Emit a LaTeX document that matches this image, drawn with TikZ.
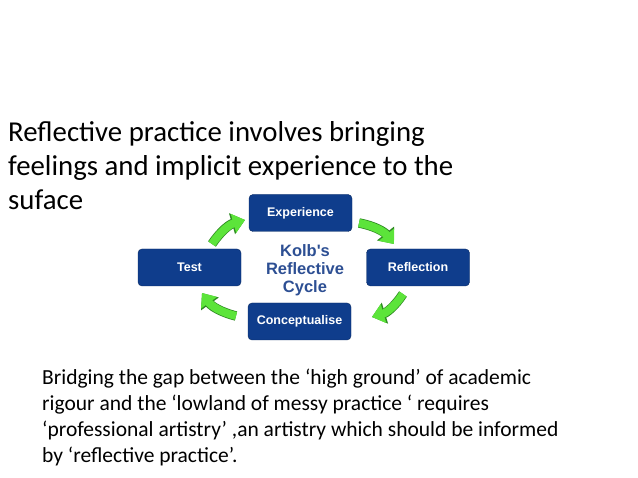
\documentclass[tikz,border=0pt]{standalone}
\usepackage{fontspec}
\setmainfont{Carlito}
\newfontfamily\arialf{Liberation Sans}
\usetikzlibrary{arrows.meta}
\definecolor{boxblue}{HTML}{0F3D8C}
\definecolor{textblue}{HTML}{2D4F93}
\definecolor{arrgreen}{HTML}{5CE43A}
\definecolor{arrdark}{HTML}{2E8A22}
\tikzset{
 kbox/.style={draw=boxblue!70!black, fill=boxblue, rounded corners=4pt, minimum width=103pt, minimum height=37pt, text=white, font=\arialf\bfseries\fontsize{12.5}{14}\selectfont, inner sep=0pt},
 garrow/.style={line width=8pt, arrgreen, -{Triangle[width=19pt,length=12pt]}, preaction={draw=arrdark, line width=9.5pt, -{Triangle[width=21pt,length=13.5pt]}}},
 bigtext/.style={anchor=north west, align=left, font=\fontsize{28.8}{34}\selectfont, inner sep=0pt},
 smalltext/.style={anchor=north west, align=left, font=\fontsize{21.5}{26}\selectfont, inner sep=0pt}
}
\begin{document}
\begin{tikzpicture}[x=1pt,y=-1pt]
\useasboundingbox (0,0) rectangle (638,478);
\node[bigtext] (title) at (8,121) {Reflective practice involves bringing\\feelings and implicit experience to the\\suface};
\node[kbox] (exp) at (300.5,213) {Experience};
\node[kbox] (ref) at (418,267.5) {Reflection};
\node[kbox] (tst) at (189.5,267.5) {Test};
\node[kbox] (con) at (299.5,321.5) {Conceptualise};
\node[text=textblue, font=\arialf\bfseries\fontsize{16.5}{18}\selectfont, align=center] (kolb) at (305,270) {Kolb's\\Reflective\\Cycle};
\coordinate (a1) at (359,223); \coordinate (a1e) at (394,244);
\coordinate (a2) at (403,294); \coordinate (a2e) at (372,317);
\coordinate (a3) at (236,316); \coordinate (a3e) at (202,293);
\coordinate (a4) at (212,244); \coordinate (a4e) at (245,220);
\draw[garrow] (a1) to[bend left=20] (a1e);
\draw[garrow] (a2) to[bend left=20] (a2e);
\draw[garrow] (a3) to[bend left=20] (a3e);
\draw[garrow] (a4) to[bend left=20] (a4e);
\node[smalltext] (body) at (42,369) {Bridging the gap between the ‘high ground’ of academic\\rigour and the ‘lowland of messy practice ‘ requires\\‘professional artistry’ ,an artistry which should be informed\\by ‘reflective practice’.};
\end{tikzpicture}
\end{document}
